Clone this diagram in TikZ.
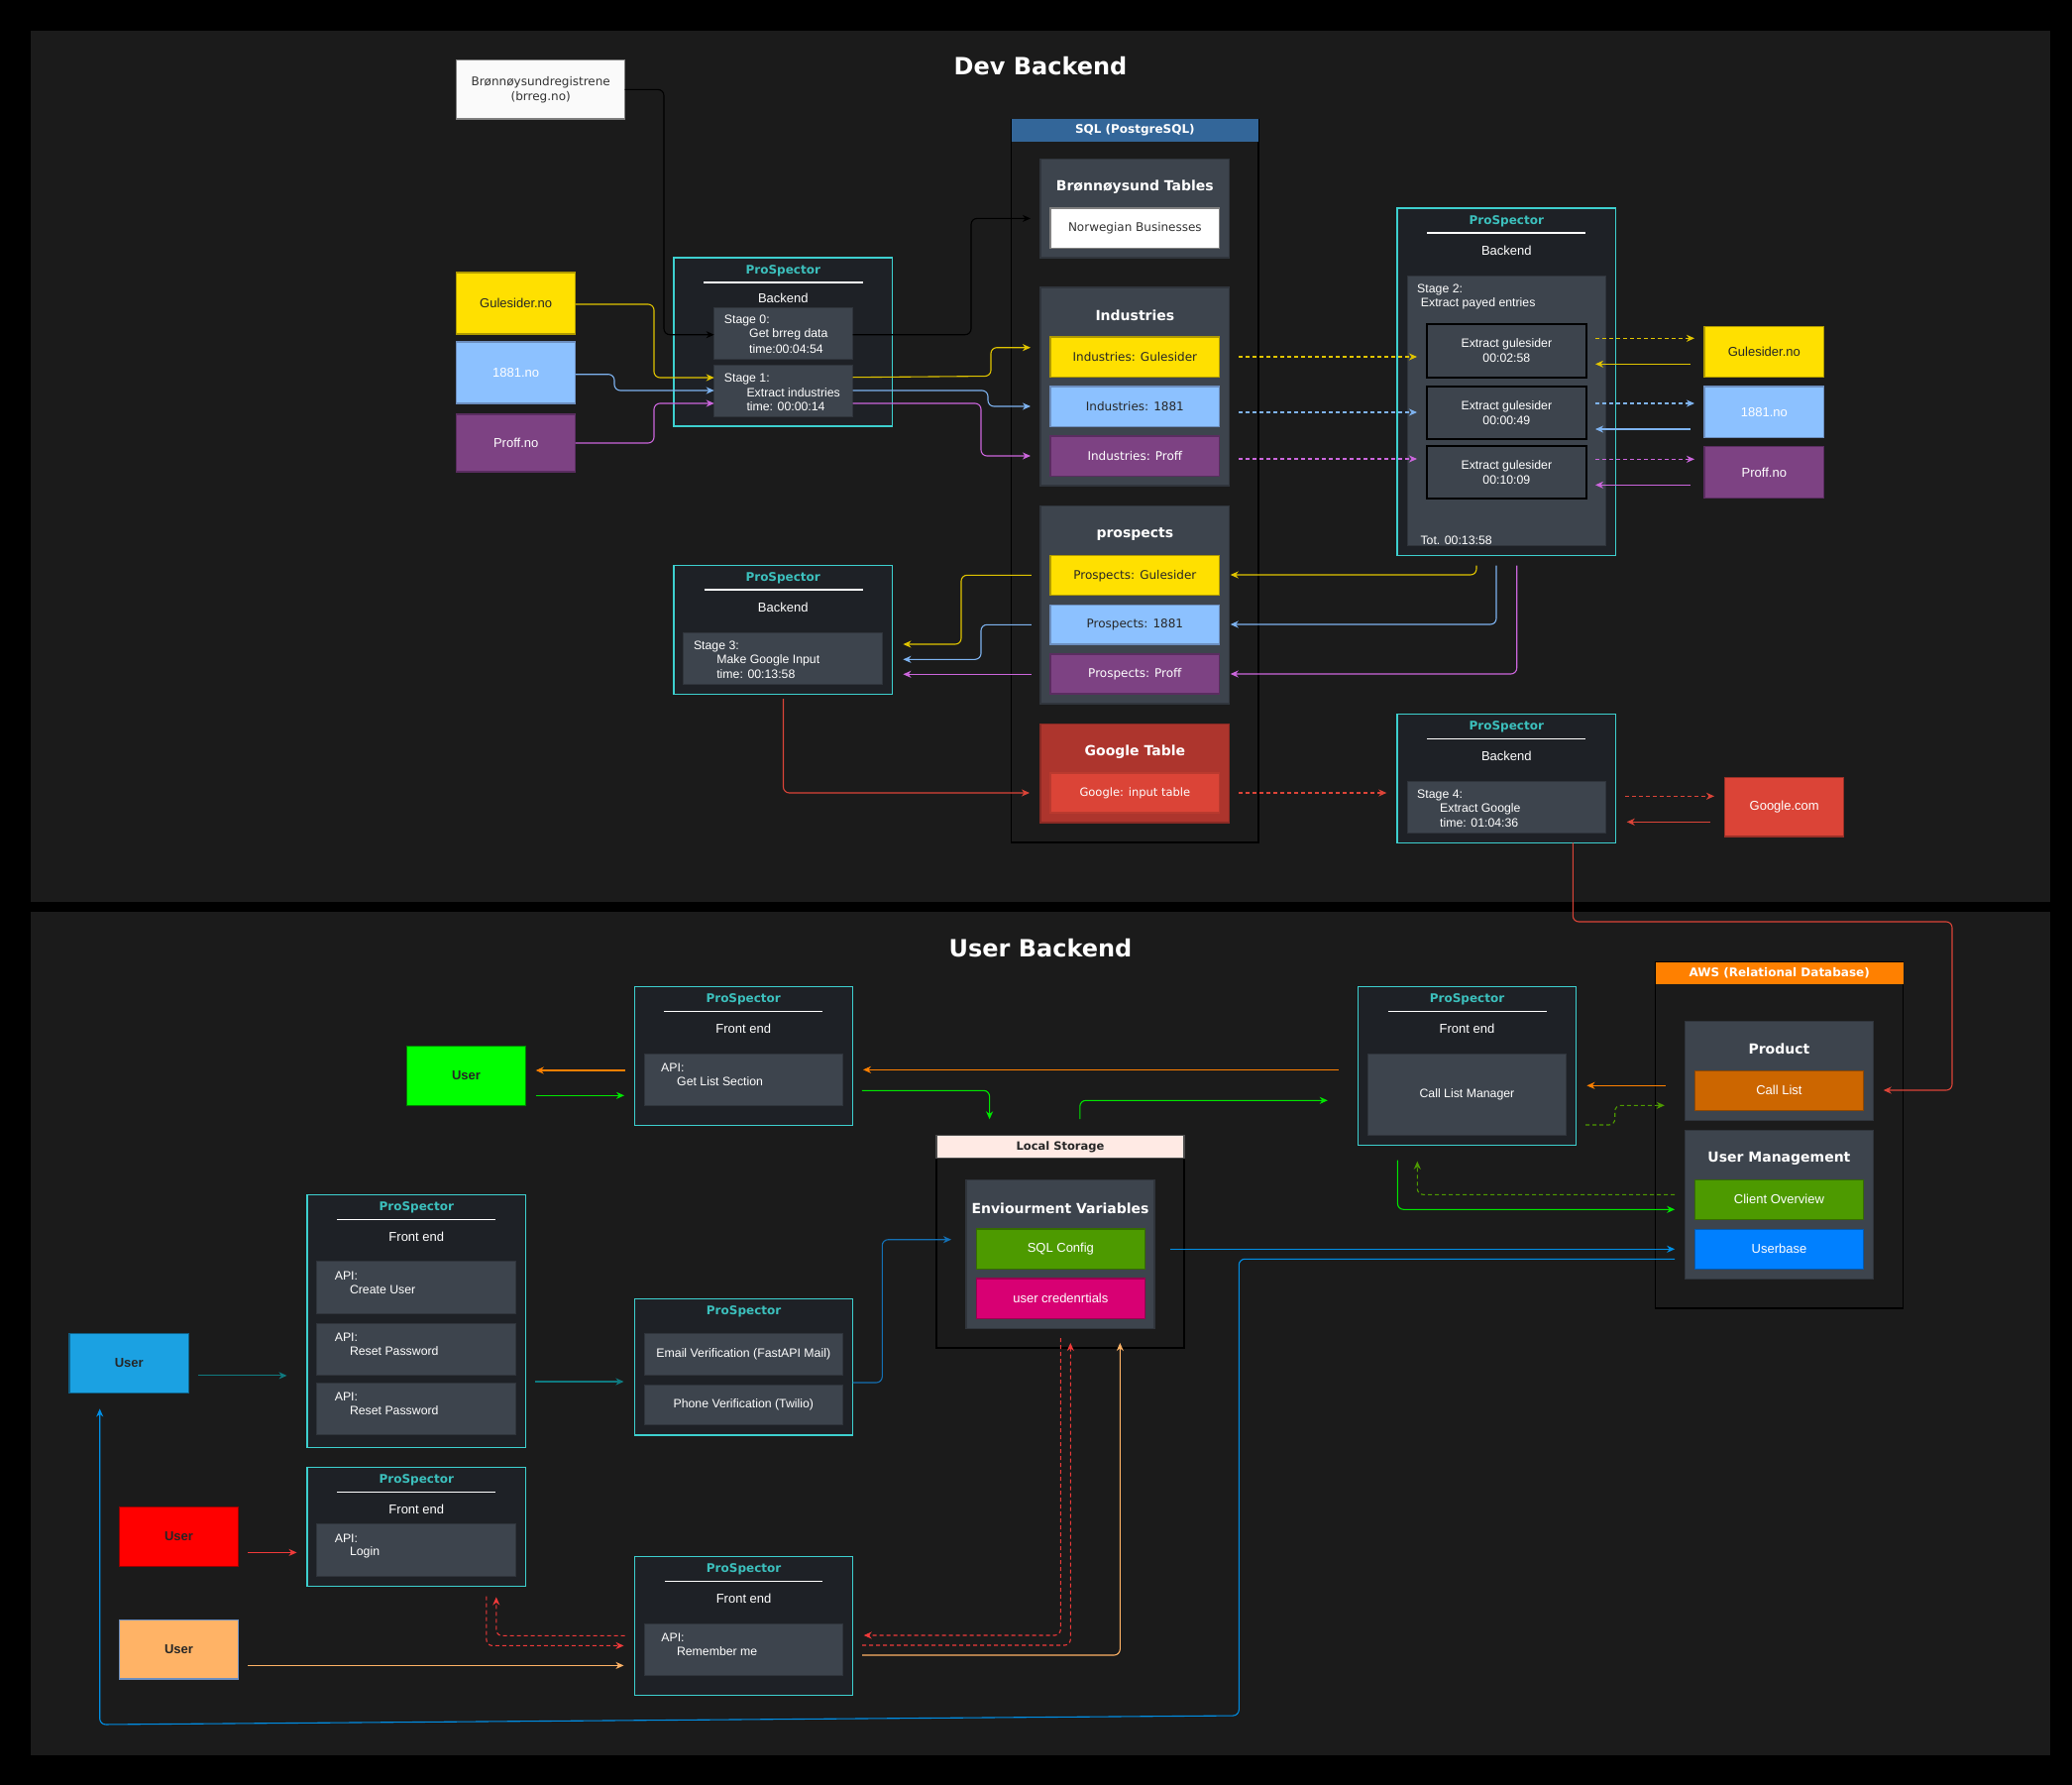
\documentclass[tikz,border=0pt]{standalone}
\usepackage{fontspec}
\setmainfont{Liberation Sans}
\newfontfamily\dv{DejaVu Sans}
\usetikzlibrary{arrows.meta}
\newcommand\fsz[2]{\fontsize{#1}{#2}\selectfont}
\newcommand\bx[7]{\node[bxbase,#6,minimum width={(#4-#2)*1pt},minimum height={(#5-#3)*1pt}] (#1) at ({(#2+#4)/2},{(#3+#5)/2}) {#7};}
\definecolor{bgpanel}{HTML}{1B1B1B}
\definecolor{psfill}{HTML}{1E2126}
\definecolor{psborder}{HTML}{3DD0CF}
\definecolor{pstc}{HTML}{3CC0BD}
\definecolor{innerc}{HTML}{3D444D}
\definecolor{innerb}{HTML}{30353C}
\definecolor{yelc}{HTML}{FFE000}
\definecolor{yelb}{HTML}{B09A00}
\definecolor{lbluec}{HTML}{8CC1FF}
\definecolor{lblueb}{HTML}{6C8EBF}
\definecolor{purpc}{HTML}{7D4283}
\definecolor{purpb}{HTML}{5A2D60}
\definecolor{sqlhc}{HTML}{336699}
\definecolor{gredgrp}{HTML}{AD352D}
\definecolor{gred}{HTML}{DB4437}
\definecolor{lshc}{HTML}{FFEAE4}
\definecolor{awsc}{HTML}{FF8000}
\definecolor{callc}{HTML}{CC6600}
\definecolor{dgreen}{HTML}{4D9A00}
\definecolor{ubc}{HTML}{0080FF}
\definecolor{credc}{HTML}{D80073}
\definecolor{ugreenc}{HTML}{00FF00}
\definecolor{ubluec}{HTML}{1BA1E2}
\definecolor{uredc}{HTML}{FF0000}
\definecolor{uorc}{HTML}{FFB366}
\definecolor{lyel}{HTML}{E0C400}
\definecolor{lblu}{HTML}{7EB3F0}
\definecolor{lpur}{HTML}{CC66DD}
\definecolor{lred}{HTML}{DC4438}
\definecolor{lorange}{HTML}{FF8000}
\definecolor{lgreen}{HTML}{00E600}
\definecolor{ldgreen}{HTML}{4D9A00}
\definecolor{lblue2}{HTML}{008FE6}
\definecolor{lblue3}{HTML}{1470B4}
\definecolor{lteal}{HTML}{0F7A80}
\definecolor{lred2}{HTML}{F03A3A}
\definecolor{lpeach}{HTML}{FFB366}
\begin{document}
\begin{tikzpicture}[x=1pt,y=-1pt,
 bxbase/.style={inner sep=0pt,outer sep=0pt,align=center},
 panel/.style={fill=bgpanel},
 ps/.style={fill=psfill,draw=psborder,line width=1.3pt},
 innerbox/.style={fill=innerc,draw=innerb,line width=1pt,text=white,font=\fsz{12.3}{15}},
 exbox/.style={fill=innerc,draw=black,line width=1.6pt,text=white,font=\fsz{12.3}{15}},
 src/.style={line width=1.2pt,font=\fsz{13}{15}},
 yel/.style={src,fill=yelc,draw=yelb,text=black!85},
 lblue/.style={src,fill=lbluec,draw=lblueb,text=white},
 purp/.style={src,fill=purpc,draw=purpb,text=white},
 brregst/.style={fill=white!98!black,draw=gray,line width=1.2pt,text=black!80,font=\dv\fsz{12}{14.7}},
 cont/.style={fill=bgpanel,draw=black,line width=1.3pt},
 hdr/.style={font=\dv\bfseries\fsz{12}{14}},
 sqlhead/.style={hdr,fill=sqlhc,text=white},
 lshead/.style={font=\dv\bfseries\fsz{11.5}{13},fill=lshc,draw=black!70,line width=1.2pt,text=black!85},
 awshead/.style={hdr,fill=awsc,text=white},
 grp/.style={fill=innerc,draw=innerb,line width=1.2pt},
 ggrp/.style={fill=gredgrp,draw=gredgrp!80!black,line width=1.2pt},
 itm/.style={font=\dv\fsz{12}{14},line width=1.2pt},
 yelI/.style={itm,fill=yelc,draw=yelb,text=black!85},
 lblueI/.style={itm,fill=lbluec,draw=lblueb,text=black!85},
 purpI/.style={itm,fill=purpc,draw=purpb,text=white},
 whitebox/.style={itm,fill=white,draw=gray,text=black!80},
 gitem/.style={font=\dv\fsz{11.5}{14},fill=gred,draw=gred!85!black,text=white,line width=1.2pt},
 citm/.style={font=\fsz{13}{15},line width=1.2pt,text=white},
 gitm/.style={citm,fill=dgreen,draw=dgreen!70!black},
 pitm/.style={citm,fill=credc,draw=credc!70!black},
 callst/.style={citm,fill=callc,draw=callc!70!black},
 bitm/.style={citm,fill=ubc,draw=ubc!70!black},
 gbox/.style={src,fill=gred,draw=gred!70!black,text=white},
 usr/.style={font=\bfseries\fsz{13}{15},text=black!85,line width=1.2pt},
 ugreen/.style={usr,fill=ugreenc,draw=green!50!black},
 ublue/.style={usr,fill=ubluec,draw=ubluec!60!black},
 ured/.style={usr,fill=uredc,draw=uredc!60!black},
 uorange/.style={usr,fill=uorc,draw=lblueb},
 pstitle/.style={font=\dv\bfseries\fsz{12}{14},text=pstc,inner sep=0pt},
 subt/.style={font=\fsz{13}{15},text=white,inner sep=0pt},
 tx/.style={font=\fsz{12.3}{15},text=white,anchor=west,inner sep=0pt},
 gtitle/.style={font=\dv\bfseries\fsz{14}{16},text=white,inner sep=0pt},
 bigtitle/.style={font=\dv\bfseries\fsz{24}{28},text=white},
 sepline/.style={white,line width=1.2pt},
 arr/.style={-{Stealth[length=8pt,width=7pt,inset=2.5pt]},line width=1.1pt,rounded corners=6pt},
 dsh/.style={dash pattern=on 4pt off 3pt}
]
\useasboundingbox (0,0) rectangle (2091,1801);
\fill[black] (0,0) rectangle (2091,1801);
\bx{devpanel}{31}{31}{2069}{910}{panel}{}
\bx{userpanel}{31}{920}{2069}{1771}{panel}{}
\node[bigtitle] (devtitle) at (1050,67) {Dev Backend};
\node[bigtitle] (usertitle) at (1050,957) {User Backend};

% ---------- Dev backend ----------
\bx{brreg}{460.7}{60.7}{630.7}{120}{brregst}{Brønnøysundregistrene\\(brreg.no)}
\bx{gulL}{460.7}{275}{580.7}{337}{yel}{Gulesider.no}
\bx{nL}{460.7}{345}{580.7}{407}{lblue}{1881.no}
\bx{proffL}{460.7}{418}{580.7}{476}{purp}{Proff.no}

\bx{ps1}{680}{260}{900.7}{430}{ps}{}
\node[pstitle] (ps1t) at (790.3,273) {ProSpector};
\draw[sepline] (710,285) -- (870.7,285);
\node[subt] (ps1b) at (790.3,301) {Backend};
\bx{st0}{720.7}{310.7}{860.7}{362.7}{innerbox}{}
\node[tx] (st0a) at (730.7,323.7) {Stage 0:};
\node[tx] (st0b) at (756,337.7) {Get brreg data};
\node[tx] (st0c) at (756,352.3) {time:00:04:54};
\bx{st1}{720.7}{368}{860.7}{420}{innerbox}{}
\node[tx] (st1a) at (730.7,382) {Stage 1:};
\node[tx] (st1b) at (753.3,396) {Extract industries};
\node[tx] (st1c) at (753.3,410) {time: 00:00:14};

\bx{sql}{1020.7}{120.4}{1270}{850}{cont}{}
\bx{sqlh}{1020.7}{120.4}{1270}{143}{sqlhead}{SQL (PostgreSQL)}
\bx{brt}{1050}{160.5}{1240.7}{260}{grp}{}
\node[gtitle] (brtt) at (1145.35,188.8) {Brønnøysund Tables};
\bx{nb}{1060}{210}{1230.7}{250.6}{whitebox}{Norwegian Businesses}
\bx{ind}{1050}{290}{1240.7}{490}{grp}{}
\node[gtitle] (indt) at (1145.35,318) {Industries};
\bx{indG}{1060}{340}{1230.7}{380.4}{yelI}{Industries: Gulesider}
\bx{ind1}{1060}{390}{1230.7}{430.4}{lblueI}{Industries: 1881}
\bx{indP}{1060}{440}{1230.7}{480.5}{purpI}{Industries: Proff}
\bx{pro}{1050}{510.7}{1240.7}{710}{grp}{}
\node[gtitle] (prot) at (1145.35,539) {prospects};
\bx{proG}{1060}{560.7}{1230.7}{600.8}{yelI}{Prospects: Gulesider}
\bx{pro1}{1060}{610.5}{1230.7}{650}{lblueI}{Prospects: 1881}
\bx{proP}{1060}{660}{1230.7}{700}{purpI}{Prospects: Proff}
\bx{ggl}{1050}{730.6}{1240.7}{830}{ggrp}{}
\node[gtitle] (gglt) at (1145.35,759) {Google Table};
\bx{gglI}{1060}{780}{1230.7}{820}{gitem}{Google: input table}

\bx{ps2}{1410}{210}{1630.7}{560.7}{ps}{}
\node[pstitle] (ps2t) at (1520.3,223) {ProSpector};
\draw[sepline] (1440,235) -- (1600,235);
\node[subt] (ps2b) at (1520.3,253) {Backend};
\bx{st2}{1420}{278}{1620.7}{550.7}{innerbox}{}
\node[tx] (st2a) at (1430,292) {Stage 2:};
\node[tx] (st2b) at (1433.7,306) {Extract payed entries};
\node[tx] (st2c) at (1433.3,545) {Tot. 00:13:58};
\bx{ex1}{1440}{327}{1600.7}{380.7}{exbox}{Extract gulesider\\00:02:58}
\bx{ex2}{1440}{390}{1600.7}{443}{exbox}{Extract gulesider\\00:00:49}
\bx{ex3}{1440}{450}{1600.7}{503}{exbox}{Extract gulesider\\00:10:09}
\bx{gulR}{1720}{329.3}{1840.7}{380.7}{yel}{Gulesider.no}
\bx{nR}{1720}{390}{1840.7}{441.7}{lblue}{1881.no}
\bx{proffR}{1720}{450.3}{1840.7}{502.7}{purp}{Proff.no}

\bx{ps3}{680}{570.3}{900.3}{700.3}{ps}{}
\node[pstitle] (ps3t) at (790.2,583.3) {ProSpector};
\draw[sepline] (710.5,595) -- (870.5,595);
\node[subt] (ps3b) at (790.2,613.3) {Backend};
\bx{st3}{689.9}{638}{890.8}{690.3}{innerbox}{}
\node[tx] (st3a) at (699.8,652) {Stage 3:};
\node[tx] (st3b) at (723.1,666) {Make Google Input};
\node[tx] (st3c) at (723.1,680) {time: 00:13:58};

\bx{ps4}{1410}{720.3}{1630.7}{850.3}{ps}{}
\node[pstitle] (ps4t) at (1520.3,733.3) {ProSpector};
\draw[sepline] (1440,745.3) -- (1600,745.3);
\node[subt] (ps4b) at (1520.3,763.3) {Backend};
\bx{st4}{1420}{788.3}{1620.7}{840.3}{innerbox}{}
\node[tx] (st4a) at (1430,802.3) {Stage 4:};
\node[tx] (st4b) at (1453,816) {Extract Google};
\node[tx] (st4c) at (1453,830) {time: 01:04:36};
\bx{gcom}{1740.7}{784.3}{1860.7}{844}{gbox}{Google.com}

% dev connectors
\draw[arr,black] (brreg.east) -- (670,90.35) -- (670,337.7) -- (st0.west |- 0,337.7);
\draw[arr,black] (st0.east |- 0,337.7) -- (980,337.7) -- (980,220.4) -- (1040,220.4);
\draw[arr,lyel] (gulL.east |- 0,307) -- (660,307) -- (660,381) -- (st1.west |- 0,381);
\draw[arr,lblu] (nL.east |- 0,377.7) -- (620,377.7) -- (620,394) -- (st1.west |- 0,394);
\draw[arr,lpur] (proffL.east |- 0,447) -- (660,447) -- (660,407) -- (st1.west |- 0,407);
\draw[arr,lyel] (st1.east |- 0,380.7) -- (1000,379.5) -- (1000,350.7) -- (1040,350.7);
\draw[arr,lblu] (st1.east |- 0,394) -- (997,394) -- (997,410) -- (1040,410);
\draw[arr,lpur] (st1.east |- 0,407) -- (990,407) -- (990,460) -- (1040,460);
\draw[arr,dsh,lyel] (1250,360) -- (1430,360);
\draw[arr,dsh,lblu] (1250,416) -- (1430,416);
\draw[arr,dsh,lpur] (1250,463) -- (1430,463);
\draw[arr,dsh,lyel] (1610,341.3) -- (1710,341.3);
\draw[arr,dsh,lblu] (1610,407) -- (1710,407);
\draw[arr,dsh,lpur] (1610,463.3) -- (1710,463.3);
\draw[arr,lyel] (1706,367.3) -- (1610,367.3);
\draw[arr,lblu] (1706,433) -- (1610,433);
\draw[arr,lpur] (1706,489.3) -- (1610,489.3);
\draw[arr,lyel] (1490,570.7) -- (1490,580) -- (1241.7,580);
\draw[arr,lblu] (1510,570.7) -- (1510,630) -- (1241.7,630);
\draw[arr,lpur] (1530.7,570.7) -- (1530.7,680) -- (1241.7,680);
\draw[arr,lyel] (1040.8,580.3) -- (970,580.3) -- (970,650) -- (911.4,650);
\draw[arr,lblu] (1040.8,630.3) -- (990,630.3) -- (990,665.3) -- (911.4,665.3);
\draw[arr,lpur] (1040.8,680.3) -- (911.4,680.3);
\draw[arr,lred] (790.5,705) -- (790.5,800) -- (1039,800);
\draw[arr,dsh,lred] (1250,800) -- (1399.3,800);
\draw[arr,dsh,lred] (1640,803.3) -- (1730,803.3);
\draw[arr,lred] (1726,829.3) -- (1641.7,829.3);

% ---------- User backend ----------
\bx{uG}{410.6}{1055.3}{530.5}{1115.3}{ugreen}{User}
\bx{psGL}{640.2}{995.3}{860.2}{1135.3}{ps}{}
\node[pstitle] (psGLt) at (750.2,1008.7) {ProSpector};
\draw[sepline] (670.2,1020.3) -- (830.2,1020.3);
\node[subt] (psGLb) at (750.2,1038.3) {Front end};
\bx{apiGL}{650.4}{1063}{850.7}{1115.3}{innerbox}{}
\node[tx] (apiGLa) at (667,1077) {API:};
\node[tx] (apiGLb) at (683,1091) {Get List Section};

\bx{psCL}{1370.2}{995.3}{1590.7}{1155.3}{ps}{}
\node[pstitle] (psCLt) at (1480.5,1008.7) {ProSpector};
\draw[sepline] (1400.5,1020.3) -- (1560.8,1020.3);
\node[subt] (psCLb) at (1480.5,1038.3) {Front end};
\bx{clm}{1380.6}{1063}{1580.3}{1145.3}{innerbox}{Call List Manager}

\bx{ls}{945}{1145.7}{1195}{1360}{cont}{}
\bx{lsh}{945}{1145.7}{1195}{1168.3}{lshead}{Local Storage}
\bx{env}{975}{1190.3}{1165}{1340.3}{grp}{}
\node[gtitle] (envt) at (1070,1219) {Enviourment Variables};
\bx{sqlc}{985.2}{1240}{1155.5}{1280.3}{gitm}{SQL Config}
\bx{ucred}{985.2}{1290}{1155.5}{1330.3}{pitm}{user credenrtials}

\bx{aws}{1670.7}{970.7}{1920.6}{1320}{cont}{}
\bx{awsh}{1670.7}{970.7}{1920.6}{993.3}{awshead}{AWS (Relational Database)}
\bx{prod}{1700.5}{1030.7}{1890.3}{1130.3}{grp}{}
\node[gtitle] (prodt) at (1795.4,1058.7) {Product};
\bx{calllist}{1710.5}{1080.3}{1880.4}{1120.3}{callst}{Call List}
\bx{um}{1700.5}{1140.7}{1890.3}{1290.3}{grp}{}
\node[gtitle] (umt) at (1795.4,1169) {User Management};
\bx{co}{1710.5}{1190.3}{1880.4}{1230.3}{gitm}{Client Overview}
\bx{ub}{1710.5}{1240.3}{1880.4}{1280.3}{bitm}{Userbase}

\bx{uB}{69.9}{1345.4}{190.7}{1405.4}{ublue}{User}
\bx{psCU}{310}{1205.4}{530.6}{1460.4}{ps}{}
\node[pstitle] (psCUt) at (420.3,1218.6) {ProSpector};
\draw[sepline] (340.3,1230.4) -- (500.3,1230.4);
\node[subt] (psCUb) at (420.3,1248.2) {Front end};
\bx{apiCU}{319.9}{1272.9}{520.7}{1325.7}{innerbox}{}
\node[tx] (apiCUa) at (337.6,1286.8) {API:};
\node[tx] (apiCUb) at (352.8,1301) {Create User};
\bx{apiRP}{319.9}{1335.4}{520.7}{1387.5}{innerbox}{}
\node[tx] (apiRPa) at (337.6,1349) {API:};
\node[tx] (apiRPb) at (352.8,1363.2) {Reset Password};
\bx{apiRQ}{319.9}{1395.4}{520.7}{1447.5}{innerbox}{}
\node[tx] (apiRQa) at (337.6,1408.9) {API:};
\node[tx] (apiRQb) at (352.8,1423.2) {Reset Password};

\bx{psV}{640.5}{1310.4}{860.7}{1447.9}{ps}{}
\node[pstitle] (psVt) at (750.6,1323.6) {ProSpector};
\bx{email}{650.4}{1345.4}{850.2}{1387.5}{innerbox}{Email Verification (FastAPI Mail)}
\bx{phone}{650.4}{1397.9}{850.2}{1437.5}{innerbox}{Phone Verification (Twilio)}

\bx{uR}{120.6}{1520.7}{240.4}{1580.4}{ured}{User}
\bx{psLG}{310}{1480.4}{530.6}{1600.7}{ps}{}
\node[pstitle] (psLGt) at (420.3,1493.6) {ProSpector};
\draw[sepline] (340.3,1505.4) -- (500.3,1505.4);
\node[subt] (psLGb) at (420.3,1523.2) {Front end};
\bx{apiLG}{319.9}{1537.9}{520.7}{1590.4}{innerbox}{}
\node[tx] (apiLGa) at (337.6,1551.8) {API:};
\node[tx] (apiLGb) at (352.8,1566) {Login};

\bx{uO}{120.6}{1634.3}{240.4}{1694}{uorange}{User}
\bx{psRM}{640.5}{1570.7}{860.7}{1710.4}{ps}{}
\node[pstitle] (psRMt) at (750.6,1583.6) {ProSpector};
\draw[sepline] (670.8,1595.4) -- (830.3,1595.4);
\node[subt] (psRMb) at (750.6,1613.2) {Front end};
\bx{apiRM}{650.4}{1638.2}{850.2}{1690.4}{innerbox}{}
\node[tx] (apiRMa) at (667.2,1651.8) {API:};
\node[tx] (apiRMb) at (682.8,1666) {Remember me};

% user connectors
\draw[arr,lred] (ps4.south -| 1587.3,0) -- (1587.3,930) -- (1970,930) -- (1970,1100) -- (1900.7,1100);
\draw[arr,lorange] (630.6,1080) -- (540.7,1080);
\draw[arr,lgreen] (540.7,1105.3) -- (630,1105.3);
\draw[arr,lorange] (1350.7,1079.3) -- (871,1079.3);
\draw[arr,lgreen] (869.8,1100.3) -- (998.6,1100.3) -- (998.6,1129.3);
\draw[arr,lgreen] (1089.8,1129) -- (1089.8,1110.3) -- (1339.8,1110.3);
\draw[arr,lorange] (1680.6,1095.3) -- (1601.4,1095.3);
\draw[arr,dsh,ldgreen] (1600.2,1135) -- (1629.7,1135) -- (1629.7,1115.3) -- (1679.8,1115.3);
\draw[arr,lgreen] (1410.4,1170.7) -- (1410.4,1220.3) -- (1690.2,1220.3);
\draw[arr,dsh,ldgreen] (1690,1205.3) -- (1430.3,1205.3) -- (1430.3,1171.7);
\draw[arr,lblue2] (1180.5,1260.3) -- (1690.2,1260.3);
\draw[arr,lblue2] (1690,1270.3) -- (1250.3,1270.3) -- (1250.3,1731) -- (100.7,1740) -- (100.7,1421.4);
\draw[arr,lblue3] (psV.east |- 0,1395) -- (890.3,1395) -- (890.3,1250.7) -- (960,1250.7);
\draw[arr,lteal] (200.1,1387.9) -- (289.5,1387.9);
\draw[arr,lteal] (540,1394) -- (629.5,1394);
\draw[arr,lred2] (250.3,1566.4) -- (299.5,1566.4);
\draw[arr,lpeach] (250.3,1680.4) -- (629.5,1680.4);
\draw[arr,dsh,lred2] (630.5,1650.4) -- (500.8,1650.4) -- (500.8,1611.4);
\draw[arr,dsh,lred2] (490.9,1610.7) -- (490.9,1660.4) -- (629.5,1660.4);
\draw[arr,dsh,lred2] (1070.3,1350) -- (1070.3,1650) -- (871.7,1650);
\draw[arr,dsh,lred2] (870,1660) -- (1080.3,1660) -- (1080.3,1355);
\draw[arr,lpeach] (870,1670) -- (1130.3,1670) -- (1130.3,1355);
\end{tikzpicture}
\end{document}
